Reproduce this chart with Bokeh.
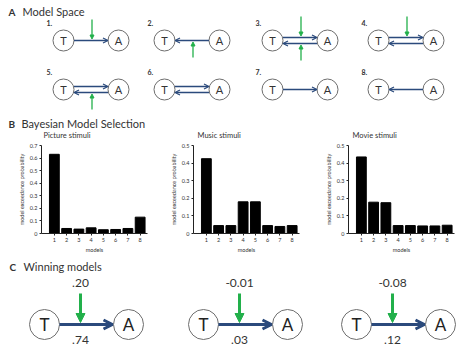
from bokeh.plotting import figure
from bokeh.models import Range1d, Arrow, OpenHead, NormalHead, FixedTicker
from bokeh.layouts import column, row
from bokeh.embed import file_html
from bokeh.resources import INLINE
from bokeh.core.properties import value

FONT = "Lato"
BLUE = "#2B4A7C"
GREEN = "#22B04B"
EDGE = "#6E6E6E"
TXT = "#333333"

# ---------------- data ----------------
# Panel A: model space (connections and modulated connections)
models = [1, 2, 3, 4, 5, 6, 7, 8]
t_to_a = [1, 0, 1, 1, 1, 1, 1, 0]
a_to_t = [0, 1, 1, 1, 1, 1, 0, 1]
mod_t_to_a = [1, 0, 1, 1, 0, 0, 0, 0]
mod_a_to_t = [0, 1, 1, 0, 1, 0, 0, 0]

# Panel B: model exceedance probabilities
model_labels = ["1", "2", "3", "4", "5", "6", "7", "8"]
picture = [0.63, 0.04, 0.035, 0.045, 0.03, 0.032, 0.04, 0.13]
music = [0.425, 0.045, 0.045, 0.18, 0.18, 0.045, 0.04, 0.045]
movie = [0.435, 0.178, 0.175, 0.045, 0.045, 0.043, 0.043, 0.047]
stim_titles = ["Picture stimuli", "Music stimuli", "Movie stimuli"]

# Panel C: winning models
winning_mod = [".20", "-0.01", "-0.08"]
winning_conn = [".74", ".03", ".12"]


def blank(height, y0, y1):
    p = figure(width=474, height=height, x_range=Range1d(0, 474), y_range=Range1d(y1, y0),
               x_axis_location=None, y_axis_location=None, toolbar_location=None,
               output_backend="svg", min_border=0, outline_line_color=None)
    p.grid.visible = False
    return p


def txt(p, x, y, s, size, bold=False, align="left", color=TXT):
    p.text(x=[x], y=[y], text=[s], text_font=value(FONT), text_font_size=size,
           text_font_style="bold" if bold else "normal", text_align=align,
           text_baseline="middle", text_color=color)


def arrow(p, x0, y0, x1, y1, color, lw, head):
    p.add_layout(Arrow(x_start=x0, y_start=y0, x_end=x1, y_end=y1, line_color=color,
                       line_width=lw, end=head))


# ---------------- Panel A ----------------
pa = blank(140, 0, 140)
txt(pa, 8, 11, "A", "10px", bold=True)
txt(pa, 22, 11, "Model Space", "11px")
txt(pa, 8, 123, "B", "10px", bold=True)
txt(pa, 21, 123, "Bayesian Model Selection", "11px")
for sx, s in zip([43, 197, 352], stim_titles):
    txt(pa, sx, 135, s, "7.5px")

col_x = [63, 164, 272, 378]
row_y = [40, 89]
R = 10.5
gap = 55
tx, ty, ax_ = [], [], []
for i, m in enumerate(models):
    x = col_x[i % 4]
    y = row_y[i // 4]
    xa = x + gap
    tx.append(x)
    ty.append(y)
    ax_.append(xa)
    txt(pa, x - 17, y - 18, f"{m}.", "7px", bold=True)
    double = t_to_a[i] and a_to_t[i]
    dy = 3 if double else 0
    mid = (x + xa) / 2 + 1
    if t_to_a[i]:
        yy = y - dy
        arrow(pa, x + R, yy, xa - R, yy, BLUE, 1.3,
              OpenHead(size=5, line_color=BLUE, line_width=1.3))
        if mod_t_to_a[i]:
            arrow(pa, mid, yy - 21, mid, yy - 1.5, GREEN, 1.3,
                  NormalHead(size=4, fill_color=GREEN, line_color=GREEN))
    if a_to_t[i]:
        yy = y + dy
        arrow(pa, xa - R, yy, x + R, yy, BLUE, 1.3,
              OpenHead(size=5, line_color=BLUE, line_width=1.3))
        if mod_a_to_t[i]:
            arrow(pa, mid, yy + 17, mid, yy + 1.5, GREEN, 1.3,
                  NormalHead(size=4, fill_color=GREEN, line_color=GREEN))

pa.scatter(x=tx + ax_, y=ty + ty, size=2 * R, marker="circle", fill_color="white",
           line_color=EDGE, line_width=1)
pa.text(x=tx + ax_, y=ty + ty, text=["T"] * 8 + ["A"] * 8, text_font=value(FONT),
        text_font_size="11px", text_align="center", text_baseline="middle", text_color=TXT)


# ---------------- Panel B ----------------
def bar_fig(vals, ymax, width, left, right, top):
    p = figure(width=width, height=115, x_range=Range1d(-0.05, 8.6), y_range=Range1d(0, ymax),
               toolbar_location=None, output_backend="svg", min_border_left=left,
               min_border_right=right, min_border_top=top, min_border_bottom=20,
               outline_line_color=None)
    p.grid.visible = False
    p.vbar(x=models, top=vals, width=0.8, color="black")
    nt = int(round(ymax * 10))
    ticks = [round(k * 0.1, 1) for k in range(nt + 1)]
    p.yaxis.ticker = FixedTicker(ticks=ticks)
    p.yaxis.major_label_overrides = {t: ("0" if t == 0 else f"{t:.1f}") for t in ticks}
    p.xaxis.ticker = FixedTicker(ticks=models)
    p.xaxis.major_label_overrides = {m: l for m, l in zip(models, model_labels)}
    p.xaxis.axis_label = "models"
    p.yaxis.axis_label = "model exceedance probability"
    for ax in (p.xaxis[0], p.yaxis[0]):
        ax.major_label_text_font = FONT
        ax.major_label_text_font_size = "5.5px"
        ax.major_label_text_color = TXT
        ax.axis_label_text_font = FONT
        ax.axis_label_text_font_size = "5.5px"
        ax.axis_label_text_font_style = "normal"
        ax.axis_label_text_color = TXT
        ax.axis_label_standoff = 2
        ax.major_label_standoff = 2
        ax.major_tick_out = 2
        ax.major_tick_in = 0
        ax.minor_tick_out = 0
        ax.minor_tick_in = 0
        ax.axis_line_color = "#222222"
        ax.major_tick_line_color = "#222222"
    return p


f1 = bar_fig(picture, 0.7, 155, 41, 8, 5)
f2 = bar_fig(music, 0.5, 155, 38, 11, 2)
f3 = bar_fig(movie, 0.5, 164, 38, 20, 2)

# ---------------- Panel C ----------------
pc = blank(100, 255, 355)
txt(pc, 9, 266, "C", "10px", bold=True)
txt(pc, 23, 266, "Winning models", "11px")
c_tx = [44, 203, 356]
c_y = 324
RC = 15
CG = 84
for i in range(3):
    x = c_tx[i]
    xa = x + CG
    gx = x + 36
    arrow(pc, x + RC, c_y, xa - RC - 1, c_y, BLUE, 3,
          OpenHead(size=9, line_color=BLUE, line_width=3))
    arrow(pc, gx, 293, gx, c_y - 2, GREEN, 3,
          NormalHead(size=9, fill_color=GREEN, line_color=GREEN))
    txt(pc, gx, 282, winning_mod[i], "12px", align="center")
    txt(pc, gx, 339, winning_conn[i], "12px", align="center")
pc.scatter(x=c_tx + [x + CG for x in c_tx], y=[c_y] * 6, size=2 * RC, marker="circle",
           fill_color="white", line_color=EDGE, line_width=1)
pc.text(x=c_tx + [x + CG for x in c_tx], y=[c_y] * 6, text=["T"] * 3 + ["A"] * 3,
        text_font=value(FONT), text_font_size="17px", text_align="center",
        text_baseline="middle", text_color="#222222")

layout = column(pa, row(f1, f2, f3), pc)
open("out.html", "w").write(file_html(layout, INLINE))
